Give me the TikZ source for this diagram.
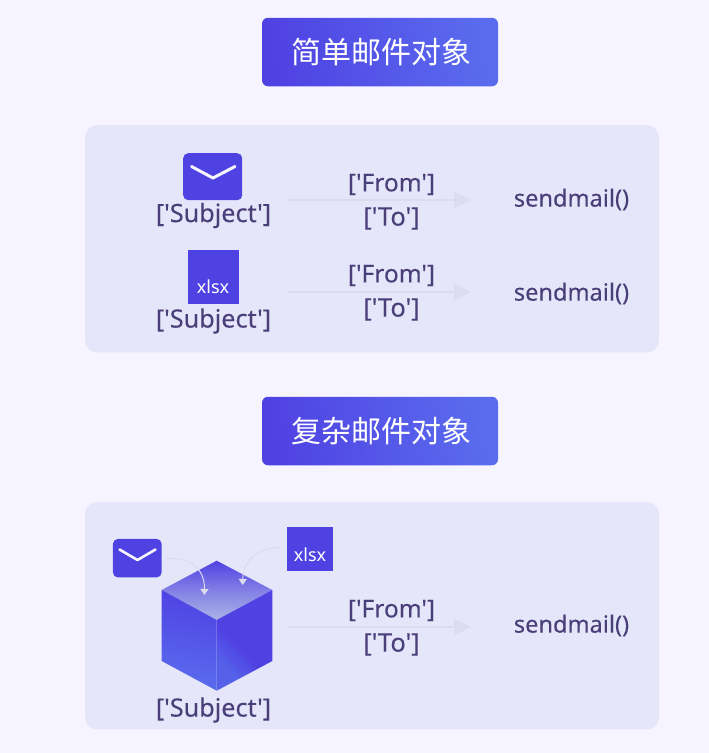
\documentclass[tikz,border=0pt]{standalone}
\usepackage{fontspec}
\newfontfamily\lblfont[FakeBold=0.15]{Noto Sans}
\newfontfamily\xfont{Noto Sans}
\newfontfamily\cjk{Noto Sans CJK SC}
\usetikzlibrary{arrows.meta}
\definecolor{pagebg}{HTML}{F6F4FE}
\definecolor{panelbg}{HTML}{E6E6FA}
\definecolor{ink}{HTML}{4B3F7A}
\definecolor{indigo}{HTML}{4F42E3}
\definecolor{bluish}{HTML}{5A6CEE}
\definecolor{midblue}{HTML}{5560E9}
\definecolor{pale}{HTML}{ABB3E6}
\definecolor{conn}{HTML}{DDDBEE}
\pgfdeclarehorizontalshading{rightface}{100bp}{color(0bp)=(midblue); color(30bp)=(midblue); color(44bp)=(indigo); color(100bp)=(indigo)}
\tikzset{
  panel/.style={fill=panelbg,rounded corners=12pt,draw=none,inner sep=0pt,minimum width=574pt,minimum height=227.5pt},
  titlebox/.style={left color=indigo,right color=bluish,shading angle=100,rounded corners=6pt,inner sep=0pt,minimum width=236pt,minimum height=68.5pt,text=white,font=\cjk\fontsize{30}{32}\selectfont},
  mailbox/.style={fill=indigo,rounded corners=5pt,inner sep=0pt},
  xlsxbox/.style={fill=indigo,inner sep=0pt,text=white},
  vmark/.style={draw=pagebg,line width=3pt,line cap=round,line join=round},
  lbl/.style={text=ink,inner sep=0pt,font=\lblfont\fontsize{24.5}{26}\selectfont},
  tolbl/.style={text=ink,inner sep=0pt,font=\lblfont\fontsize{25.5}{26}\selectfont},
  subj/.style={text=ink,inner sep=0pt,font=\lblfont\fontsize{25.2}{26}\selectfont},
  sendm/.style={text=ink,inner ysep=0pt,inner xsep=42.5pt,font=\lblfont\fontsize{23.6}{26}\selectfont},
  xtxt/.style={text=white,inner sep=0pt,font=\xfont\fontsize{18}{20}\selectfont},
  flow/.style={draw=conn,line width=1.6pt,-{Triangle[length=17pt,width=16pt]}},
  curl/.style={draw=conn,line width=1pt,-{Triangle[length=6pt,width=8pt]}},
}
\begin{document}
\begin{tikzpicture}[x=1pt,y=-1pt]
\useasboundingbox (0,0) rectangle (709,753);
\fill[pagebg] (0,0) rectangle (709,753);
% panels and titles
\node[panel] (p1) at (372,238.7) {};
\node[panel] (p2) at (372,615.7) {};
\node[titlebox] (t1) at (380,52) {\hspace*{2pt}简单邮件对象};
\node[titlebox] (t2) at (380,431) {\hspace*{2pt}复杂邮件对象};
% row 1
\node[mailbox,minimum width=59pt,minimum height=47pt] (m1) at (212.7,176.7) {};
\draw[vmark] (191.5,166.5) -- (213,178) -- (235,166.5);
\node[subj] (s1) at (213.5,215.5) {['Subject']};
\coordinate (a1) at (288,200);
\node[sendm] (e1) at (571.5,199.5) {sendmail()};
\draw[flow] (a1) -- (a1-|e1.west);
\node[lbl] (f1) at (391.5,184.5) {['From']};
\node[tolbl] (o1) at (391.5,218.5) {['To']};
% row 2
\node[xlsxbox,minimum width=51.5pt,minimum height=54pt] (x1) at (213.5,277) {};
\node[xtxt] (x1t) at (213,286.5) {xlsx};
\node[subj] (s2) at (213.5,321) {['Subject']};
\coordinate (a2) at (288,292);
\node[sendm] (e2) at (571.5,293.5) {sendmail()};
\draw[flow] (a2) -- (a2-|e2.west);
\node[lbl] (f2) at (391.5,275.5) {['From']};
\node[tolbl] (o2) at (391.5,309.5) {['To']};
% cube
\coordinate (ctop) at (216.7,560.7);
\coordinate (cl) at (161.7,590);
\coordinate (cr) at (272.3,590);
\coordinate (cm) at (216.7,620);
\coordinate (cb) at (216.7,690.7);
\coordinate (clb) at (161.7,661);
\coordinate (crb) at (272.3,661);
\shade[top color=indigo,bottom color=pale,middle color=pale!55!indigo] (ctop) -- (cr) -- (cm) -- (cl) -- cycle;
\shade[top color=indigo,bottom color=bluish,shading angle=-10] (cl) -- (cm) -- (cb) -- (clb) -- cycle;
\shade[shading=rightface,shading angle=45] (cm) -- (cr) -- (crb) -- (cb) -- cycle;
% complex row
\node[mailbox,minimum width=48.7pt,minimum height=38.5pt] (m3) at (137.3,558.2) {};
\draw[vmark,line width=2.6pt] (119.5,549.5) -- (137.5,560) -- (155.5,549.5);
\node[xlsxbox,minimum width=46.3pt,minimum height=44.3pt] (x3) at (309.8,548.8) {};
\node[xtxt] (x3t) at (310,555) {xlsx};
\coordinate (c1a) at (166,558.7);
\coordinate (c1b) at (204.3,595);
\draw[curl] (c1a) .. controls (188,557) and (205,567) .. (c1b);
\coordinate (c2a) at (281.7,547.7);
\coordinate (c2b) at (242.7,585);
\draw[curl] (c2a) .. controls (260,546) and (243,560) .. (c2b);
\node[subj] (s3) at (213.5,710) {['Subject']};
\coordinate (a3) at (288,627);
\node[sendm] (e3) at (571.5,625.5) {sendmail()};
\draw[flow] (a3) -- (a3-|e3.west);
\node[lbl] (f3) at (391.5,610.5) {['From']};
\node[tolbl] (o3) at (391.5,644.5) {['To']};
\end{tikzpicture}
\end{document}
